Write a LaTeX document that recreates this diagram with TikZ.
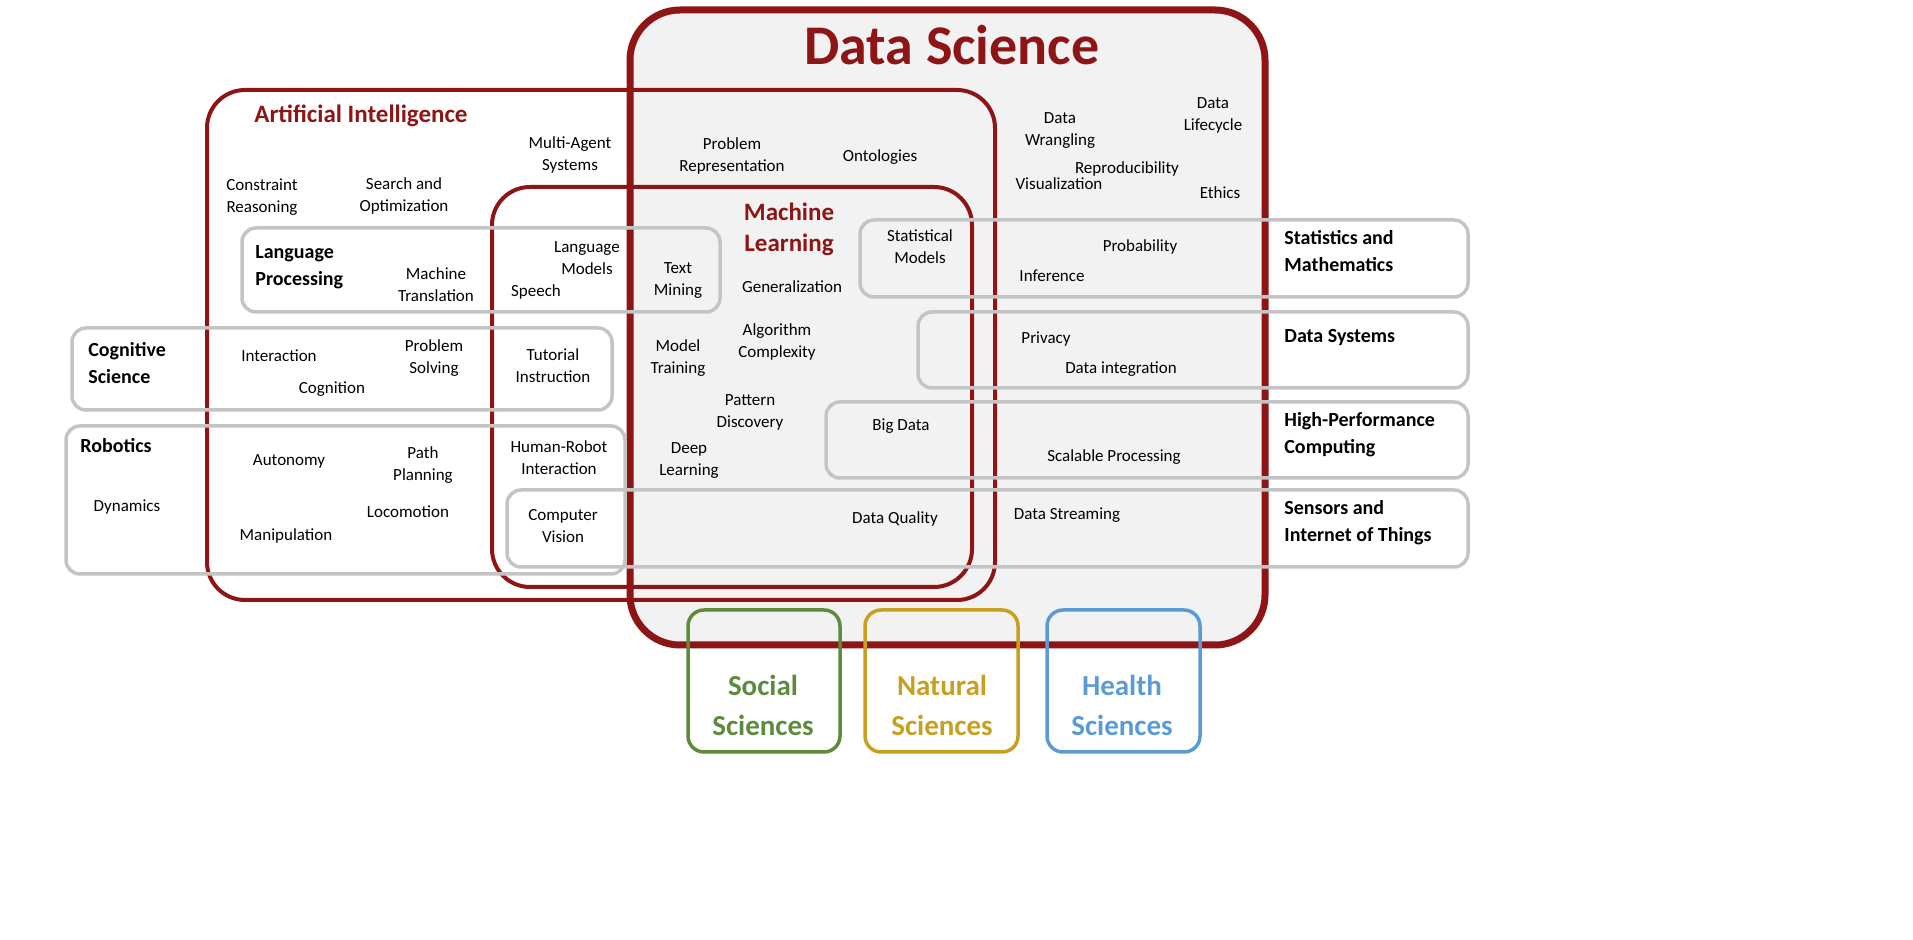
\documentclass[tikz,border=0pt]{standalone}
\usepackage{fontspec}
\setmainfont{Carlito}
\definecolor{dsred}{HTML}{8E1515}
\definecolor{boxgray}{HTML}{C4C4C4}
\definecolor{dsfill}{HTML}{F2F2F2}
\definecolor{socg}{HTML}{5E8B3B}
\definecolor{natg}{HTML}{C8A021}
\definecolor{heab}{HTML}{5B9BD5}
\begin{document}
\begin{tikzpicture}[x=0.5pt,y=-0.5pt,every node/.append style={transform shape},scale=1,
  lbl/.style={font=\fontsize{8.5}{11}\selectfont,align=center,inner sep=0pt},
  hdr/.style={font=\fontsize{10}{13.5}\selectfont\bfseries,align=left,anchor=west,inner sep=0pt},
  graybox/.style={draw=boxgray,line width=1.75pt,rounded corners=7pt},
  redbox/.style={draw=dsred,line width=2pt,rounded corners=19pt},
  scibox/.style={line width=1.75pt,rounded corners=8pt},
  scitxt/.style={font=\fontsize{14.5}{20}\selectfont\bfseries,align=center,inner sep=0pt}]
\useasboundingbox (0,0) rectangle (1913,940);
\fill[dsfill,rounded corners=25pt] (630,10) rectangle (1265,645);
\draw[draw=dsred,line width=3.5pt,rounded corners=25pt] (630,10) rectangle (1265,645);
\draw[redbox] (207,90) rectangle (995,600);
\draw[redbox] (492,187) rectangle (972,587);
\draw[graybox] (242,228) rectangle (720,312);
\draw[graybox] (860,220) rectangle (1468,297);
\draw[graybox] (72,328) rectangle (612,410);
\draw[graybox] (918,312) rectangle (1468,388);
\draw[graybox] (826,402) rectangle (1468,478);
\draw[graybox] (66,426) rectangle (625,574);
\draw[graybox] (507,490) rectangle (1468,567);
\draw[scibox,draw=socg] (688,610) rectangle (840,752);
\draw[scibox,draw=natg] (865,610) rectangle (1018,752);
\draw[scibox,draw=heab] (1047,610) rectangle (1200,752);
\node[font=\fontsize{28}{30}\selectfont\bfseries,text=dsred] (ds) at (952,45) {Data Science};
\node[font=\fontsize{12.5}{15}\selectfont\bfseries,text=dsred] (ai) at (361,116) {Artificial Intelligence};
\node[font=\fontsize{12.5}{15.5}\selectfont\bfseries,text=dsred,align=center] (ml) at (789,229) {Machine\\Learning};
\node[scitxt,text=socg] (soc) at (763,705) {Social\\Sciences};
\node[scitxt,text=natg] (nat) at (942,705) {Natural\\Sciences};
\node[scitxt,text=heab] (hea) at (1122,705) {Health\\Sciences};
\node[hdr] (h1) at (255,267) {Language\\Processing};
\node[hdr] (h2) at (1284,251) {Statistics and\\Mathematics};
\node[hdr] (h3) at (88,363) {Cognitive\\Science};
\node[hdr] (h4) at (1284,338) {Data Systems};
\node[hdr] (h5) at (1284,435) {High-Performance\\Computing};
\node[hdr] (h6) at (80,446) {Robotics};
\node[hdr] (h7) at (1284,523) {Sensors and\\Internet of Things};
\node[lbl] (t1) at (570,155) {Multi-Agent\\Systems};
\node[lbl] (t2) at (732,156) {Problem\\Representation};
\node[lbl] (t3) at (880,157) {Ontologies};
\node[lbl] (t4) at (262,197) {Constraint\\Reasoning};
\node[lbl] (t5) at (404,196) {Search and\\Optimization};
\node[lbl] (t6) at (1060,131) {Data\\Wrangling};
\node[lbl] (t7) at (1213,115) {Data\\Lifecycle};
\node[lbl] (t8) at (1127,169) {Reproducibility};
\node[lbl] (t9) at (1059,184) {Visualization};
\node[lbl] (t10) at (1220,193) {Ethics};
\node[lbl] (t11) at (436,285) {Machine\\Translation};
\node[lbl] (t12) at (587,258) {Language\\Models};
\node[lbl] (t13) at (536,292) {Speech};
\node[lbl] (t14) at (678,281) {Text\\Mining};
\node[lbl] (t15) at (792,287) {Generalization};
\node[lbl] (t16) at (920,247) {Statistical\\Models};
\node[lbl] (t17) at (1140,247) {Probability};
\node[lbl] (t18) at (1052,276) {Inference};
\node[lbl] (t19) at (279,356) {Interaction};
\node[lbl] (t20) at (434,358) {Problem\\Solving};
\node[lbl] (t21) at (332,389) {Cognition};
\node[lbl] (t22) at (553,366) {Tutorial\\Instruction};
\node[lbl] (t23) at (678,358) {Model\\Training};
\node[lbl] (t24) at (777,342) {Algorithm\\Complexity};
\node[lbl] (t25) at (1046,339) {Privacy};
\node[lbl] (t26) at (1121,369) {Data integration};
\node[lbl] (t27) at (750,412) {Pattern\\Discovery};
\node[lbl] (t28) at (901,426) {Big Data};
\node[lbl] (t29) at (289,461) {Autonomy};
\node[lbl] (t30) at (423,465) {Path\\Planning};
\node[lbl] (t31) at (559,458) {Human-Robot\\Interaction};
\node[lbl] (t32) at (689,461) {Deep\\Learning};
\node[lbl] (t33) at (1114,457) {Scalable Processing};
\node[lbl] (t34) at (127,507) {Dynamics};
\node[lbl] (t35) at (408,512) {Locomotion};
\node[lbl] (t36) at (286,536) {Manipulation};
\node[lbl] (t37) at (563,526) {Computer\\Vision};
\node[lbl] (t38) at (895,519) {Data Quality};
\node[lbl] (t39) at (1067,515) {Data Streaming};
\end{tikzpicture}
\end{document}
